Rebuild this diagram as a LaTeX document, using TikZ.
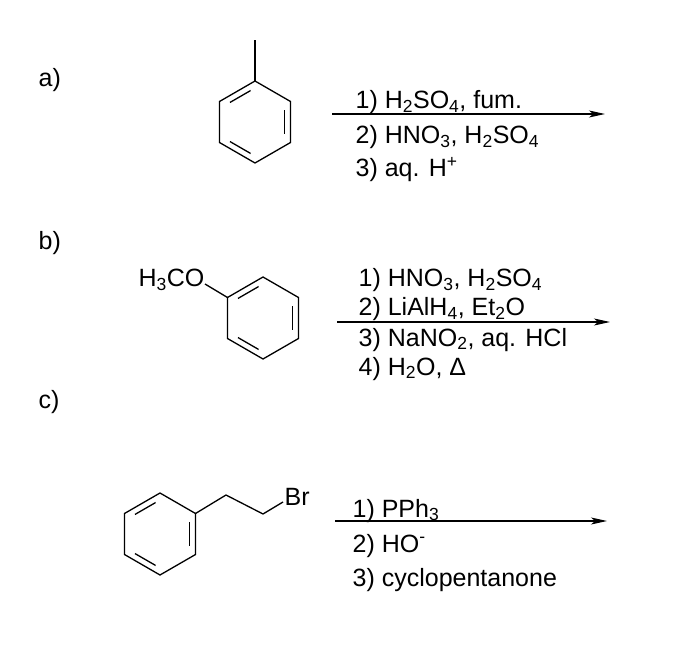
\documentclass[tikz,border=0pt]{standalone}
\usepackage{fontspec}
\setmainfont{Liberation Sans}
\usetikzlibrary{arrows.meta,calc}
\newcommand{\sbs}[1]{\textsubscript{#1}}
\newcommand{\sps}[1]{\textsuperscript{#1}}
\begin{document}
\begin{tikzpicture}[x=1pt,y=-1pt,line width=1.3pt,
  lbl/.style={inner sep=0pt,font=\fontsize{25}{30}\selectfont},
  cond/.style={lbl,anchor=base west},
  rxn/.style={-{Stealth[length=16pt,width=7pt,inset=4pt]},line width=1.1pt}]
\useasboundingbox (0,0) rectangle (680,652);
\newcommand{\ring}[3]{% name, x, y
  \foreach \a [count=\i] in {90,30,-30,-90,-150,150}{
    \coordinate (#1v\i) at ($(#2,#3)+(\a:1pt*41)$);
    \coordinate (#1w\i) at ($(#2,#3)+(\a:1pt*34)$);}
  \draw (#1v1)--(#1v2)--(#1v3)--(#1v4)--(#1v5)--(#1v6)--cycle;
  \draw ($(#1w6)!0.15!(#1w1)$)--($(#1w6)!0.85!(#1w1)$);
  \draw ($(#1w2)!0.15!(#1w3)$)--($(#1w2)!0.85!(#1w3)$);
  \draw ($(#1w4)!0.15!(#1w5)$)--($(#1w4)!0.85!(#1w5)$);}
% labels
\node[cond] (la) at (38,87) {a)};
\node[cond] (lb) at (38,250) {b)};
\node[cond] (lc) at (38,408) {c)};
% a
\ring{a}{255}{122}
\coordinate (me) at (255,40);
\draw (av1)--(me);
\coordinate (a1) at (332,114); \coordinate (a2) at (605,114);
\draw[rxn] (a1)--(a2);
\node[cond] (ca1) at (355,109) {1) H\sbs{2}SO\sbs{4}, fum.};
\node[cond] (ca2) at (355,144) {2) HNO\sbs{3}, H\sbs{2}SO\sbs{4}};
\node[cond] (ca3) at (355,177) {3) aq. H\sps{+}};
% b
\ring{b}{263}{318}
\node[cond,anchor=base east] (meo) at (205,287) {H\sbs{3}CO};
\coordinate (o1) at (205,284);
\draw (o1)--(bv6);
\coordinate (b1) at (337,322); \coordinate (b2) at (610,322);
\draw[rxn] (b1)--(b2);
\node[cond] (cb1) at (358,287) {1) HNO\sbs{3}, H\sbs{2}SO\sbs{4}};
\node[cond] (cb2) at (358,316) {2) LiAlH\sbs{4}, Et\sbs{2}O};
\node[cond] (cb3) at (358,346) {3) NaNO\sbs{2}, aq. HCl};
\node[cond] (cb4) at (358,375) {4) H\sbs{2}O, Δ};
% c
\ring{c}{160}{534}
\coordinate (k1) at (226,495); \coordinate (k2) at (263,514); \coordinate (k3) at (283,502);
\draw (cv2)--(k1)--(k2)--(k3);
\node[cond] (br) at (284,505) {Br};
\coordinate (c1) at (335,521); \coordinate (c2) at (607,521);
\draw[rxn] (c1)--(c2);
\node[cond] (cc1) at (352,517) {1) PPh\sbs{3}};
\node[cond] (cc2) at (352,552) {2) HO\sps{-}};
\node[cond] (cc3) at (352,586) {3) cyclopentanone};
\end{tikzpicture}
\end{document}
